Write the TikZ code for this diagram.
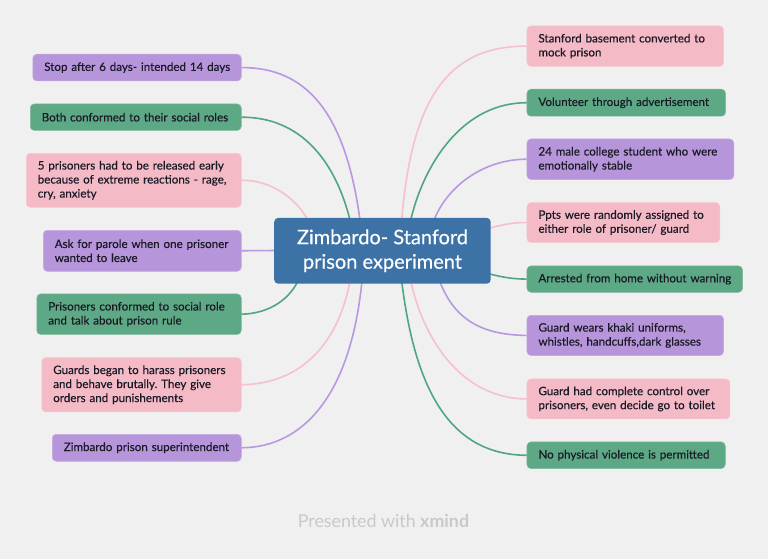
\documentclass[tikz,border=0pt]{standalone}
\usepackage{fontspec}
\setmainfont{Lato}
\newfontfamily\medfont{Lato}[FakeBold=0.4]
\definecolor{bgc}{HTML}{F0F0F0}
\definecolor{purp}{HTML}{B795DB}
\definecolor{gree}{HTML}{5EA985}
\definecolor{pink}{HTML}{F4BBC7}
\definecolor{blu}{HTML}{3C72A6}
\definecolor{lpurp}{HTML}{B898E0}
\definecolor{lgree}{HTML}{4FA67F}
\definecolor{lpink}{HTML}{F6C0CD}
\definecolor{ink}{HTML}{1A1A26}
\tikzset{
 x=1pt,y=-1pt,
 box/.style n args={3}{rounded corners=4pt,anchor=north west,inner xsep=11.5pt,inner ysep=0pt,
   text width=#1-23pt,minimum height=#2,align=left,text=ink,
   font=\medfont\fontsize{11.6}{14}\selectfont\frenchspacing,fill=#3,draw=#3!80!white,line width=.5pt},
 link/.style={line width=1.6pt},
}
\begin{document}
\begin{tikzpicture}
\useasboundingbox[fill=bgc] (0,0) rectangle (768,559);
% left
\node[box={208.5pt}{26.7pt}{purp}] (l1) at (32.5,54) {\mbox{Stop after 6 days- intended 14 days}};
\node[box={211pt}{26.5pt}{gree}] (l2) at (30,103.7) {\mbox{Both conformed to their social roles}};
\node[box={215pt}{54pt}{pink}] (l3) at (26,153) {5 prisoners had to be released early\\because of extreme reactions - rage,\\cry, anxiety};
\node[box={198pt}{41pt}{purp}] (l4) at (43,230) {Ask for parole when one prisoner\\wanted to leave};
\node[box={204.5pt}{40.5pt}{gree}] (l5) at (36.5,293.7) {Prisoners conformed to social role\\and talk about prison rule};
\node[box={199.5pt}{54.4pt}{pink}] (l6) at (41.5,357.3) {Guards began to harass prisoners\\and behave brutally. They give\\orders and punishements};
\node[box={189pt}{27pt}{purp}] (l7) at (52,434) {\mbox{Zimbardo prison superintendent}};
% right
\node[box={196.7pt}{40.4pt}{pink}] (r1) at (526.7,25.7) {Stanford basement converted to\\mock prison};
\node[box={198.6pt}{27pt}{gree}] (r2) at (526.7,89) {\mbox{Volunteer through advertisement}};
\node[box={206.8pt}{40.6pt}{purp}] (r3) at (526.7,138.7) {24 male college student who were\\emotionally stable};
\node[box={192.8pt}{40pt}{pink}] (r4) at (526.7,202.3) {Ppts were randomly assigned to\\either role of prisoner/ guard};
\node[box={215.6pt}{26.3pt}{gree}] (r5) at (526.7,265.7) {\mbox{Arrested from home without warning}};
\node[box={196.6pt}{40.3pt}{purp}] (r6) at (526.7,315) {Guard wears khaki uniforms,\\whistles, handcuffs,dark glasses};
\node[box={203pt}{40pt}{pink}] (r7) at (526.7,378.7) {Guard had complete control over\\prisoners, even decide go to toilet};
\node[box={198.3pt}{26.6pt}{gree}] (r8) at (526.7,441.7) {\mbox{No physical violence is permitted}};
% attachment points on the centre box
\coordinate (cl1) at (360,220);
\coordinate (cl2) at (350,220);
\coordinate (cl3) at (308,220);
\coordinate (cl5) at (298,281);
\coordinate (cl6) at (350,281);
\coordinate (cl7) at (362,281);
\coordinate (cr1) at (401.7,220);
\coordinate (cr2) at (410.7,220);
\coordinate (cr3) at (434,220);
\coordinate (cr4) at (488,228.5);
\coordinate (cr5) at (488,273.5);
\coordinate (cr6) at (439.7,281);
\coordinate (cr7) at (410.7,281);
\coordinate (cr8) at (401.7,281);
\coordinate (cl4) at (276,250.5);
% connectors
\draw[link,lpurp] (l1.east) .. controls (305,67.4) and (345,110) .. (cl1);
\draw[link,lgree] (l2.east) .. controls (300,117) and (335,160) .. (cl2);
\draw[link,lpink] (l3.east) .. controls (270,180) and (295,197) .. (cl3);
\draw[link,lpurp] (l4.east) -- (cl4);
\draw[link,lgree] (l5.east) .. controls (265,313.7) and (287,303) .. (cl5);
\draw[link,lpink] (l6.east) .. controls (300,384) and (338,345) .. (cl6);
\draw[link,lpurp] (l7.east) .. controls (300,447.5) and (350,400) .. (cl7);
\draw[link,lpink] (r1.west) .. controls (450,45.8) and (412,95) .. (cr1);
\draw[link,lgree] (r2.west) .. controls (465,102.5) and (425,160) .. (cr2);
\draw[link,lpurp] (r3.west) .. controls (485,159) and (448,185) .. (cr3);
\draw[link,lpink] (r4.west) .. controls (515,222.3) and (505,224) .. (cr4);
\draw[link,lgree] (r5.west) .. controls (515,279) and (505,278) .. (cr5);
\draw[link,lpurp] (r6.west) .. controls (485,335) and (455,322) .. (cr6);
\draw[link,lpink] (r7.west) .. controls (465,398.7) and (425,345) .. (cr7);
\draw[link,lgree] (r8.west) .. controls (450,455) and (415,390) .. (cr8);
% centre
\node[rounded corners=4pt,anchor=north west,inner sep=0pt,minimum width=216.5pt,minimum height=65.8pt,fill=blu,text=white,align=center,font=\medfont\fontsize{20}{24.5}\selectfont] (c) at (274,217.7) {Zimbardo- Stanford\\prison experiment};
\node[anchor=center,text=black!21,font=\fontsize{17.8}{20}\selectfont] (wm) at (383.5,520.5) {Presented with \textbf{xmind}};
\end{tikzpicture}
\end{document}
